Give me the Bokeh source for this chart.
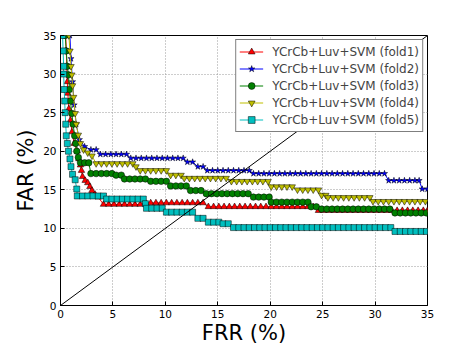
from bokeh.plotting import figure
from bokeh.models import Range1d, FixedTicker, Legend, LegendItem
from bokeh.embed import file_html
from bokeh.resources import INLINE

# ---------------- data (FRR %, FAR %) ----------------
x_ticks = [0, 5, 10, 15, 20, 25, 30, 35]
y_ticks = [0, 5, 10, 15, 20, 25, 30, 35]
eer_line = [0, 35]

labels = ["YCrCb+Luv+SVM (fold1)", "YCrCb+Luv+SVM (fold2)", "YCrCb+Luv+SVM (fold3)",
          "YCrCb+Luv+SVM (fold4)", "YCrCb+Luv+SVM (fold5)"]

fold1 = [(0.5, 35), (0.55, 33), (0.6, 31), (0.65, 29), (0.7, 27.5), (0.8, 25.5), (0.95, 24),
         (1.1, 22.5), (1.3, 21), (1.6, 20), (1.75, 19), (1.9, 18.2), (2.0, 17.5), (2.1, 16.7),
         (2.35, 16.2), (2.6, 15.9), (2.8, 15.4), (3.0, 14.9), (3.3, 14.4), (3.6, 14.05),
         (4.1, 13.1), (4.6, 13.1), (5.1, 13.1), (5.6, 13.1), (6.1, 13.1), (6.6, 13.1), (7.1, 13.1),
         (7.6, 13.1), (8.1, 13.3), (8.6, 13.3), (9.1, 13.3), (9.6, 13.3), (10.1, 13.3), (10.6, 13.3),
         (11.1, 13.3), (11.6, 13.3), (12.1, 13.3), (12.6, 13.3), (13.1, 13.3), (13.6, 13.3),
         (14.1, 12.8), (14.6, 12.8), (15.1, 12.8), (15.6, 12.8), (16.1, 12.8), (16.6, 12.8),
         (17.1, 12.8), (17.6, 12.8), (18.1, 12.8), (18.6, 12.8), (19.1, 12.8), (19.6, 12.8),
         (20.1, 12.8), (20.6, 12.8), (21.1, 12.8), (21.6, 12.8), (22.1, 12.8), (22.6, 12.8),
         (23.1, 12.8), (23.6, 12.8), (24.1, 12.8), (24.6, 12.3), (25.1, 12.3), (25.6, 12.3),
         (26.1, 12.3), (26.6, 12.3), (27.1, 12.3), (27.6, 12.3), (28.1, 12.3), (28.6, 12.3),
         (29.1, 12.3), (29.6, 12.3), (30.1, 12.3), (30.6, 12.3), (31.1, 12.3), (31.6, 12.3),
         (32.1, 12.3), (32.6, 12.3), (33.1, 12.3), (33.6, 12.3), (34.1, 12.3), (34.6, 12.3), (35, 12.3)]

fold2 = [(0.9, 35), (1.0, 32), (1.15, 29), (1.3, 26), (1.5, 23.5), (1.8, 21.5), (2.3, 20.6),
         (2.9, 20.2), (3.4, 20.2), (3.8, 19.6), (4.3, 19.6), (4.8, 19.6), (5.3, 19.6), (5.8, 19.6),
         (6.3, 19.6), (6.7, 19.1), (7.2, 19.1), (7.7, 19.1), (8.2, 19.1), (8.7, 19.1), (9.2, 19.1),
         (9.7, 19.1), (10.2, 19.1), (10.7, 19.1), (11.2, 19.1), (11.7, 19.1), (12.1, 18.6),
         (12.6, 18.6), (13.1, 18.0), (13.6, 18.0), (14.0, 17.5), (14.5, 17.5), (15.0, 17.5),
         (15.5, 17.5), (16.0, 17.5), (16.5, 17.5), (17.0, 17.5), (17.5, 17.5), (18.0, 17.5),
         (18.4, 17.1), (18.9, 17.1), (19.4, 17.1), (19.9, 17.1), (20.4, 17.1), (20.9, 17.1),
         (21.4, 17.1), (21.9, 17.1), (22.4, 17.1), (22.9, 17.1), (23.4, 17.1), (23.9, 17.1),
         (24.4, 17.1), (24.9, 17.1), (25.4, 17.1), (25.9, 17.1), (26.4, 17.1), (26.9, 17.1),
         (27.4, 17.1), (27.9, 17.1), (28.4, 17.1), (28.9, 17.1), (29.4, 17.1), (29.9, 17.1),
         (30.4, 17.1), (30.9, 17.1), (31.3, 16.2), (31.8, 16.2), (32.3, 16.2), (32.8, 16.2),
         (33.3, 16.2), (33.8, 16.2), (34.2, 16.2), (34.5, 15.1), (35, 15.1)]

fold3 = [(0.45, 35), (0.55, 33), (0.65, 31), (0.76, 29.9), (0.85, 28), (0.95, 26.5), (1.08, 24.9),
         (1.2, 23.5), (1.35, 22), (1.45, 21), (1.55, 20), (1.7, 19.2), (1.9, 18.5), (2.3, 18.5),
         (2.7, 18.5), (2.9, 17.1), (3.4, 17.1), (3.9, 17.1), (4.4, 17.1), (4.9, 17.1), (5.3, 16.9),
         (5.8, 16.9), (6.1, 16.4), (6.6, 16.4), (7.1, 16.4), (7.6, 16.4), (8.1, 16.4), (8.6, 16.1),
         (9.1, 16.1), (9.6, 16.1), (10.1, 16.1), (10.5, 15.5), (11.0, 15.5), (11.5, 15.5),
         (12.0, 15.5), (12.4, 14.9), (12.9, 14.9), (13.4, 14.9), (13.9, 14.5), (14.4, 14.5),
         (14.9, 14.5), (15.4, 14.5), (15.9, 14.5), (16.4, 14.5), (16.9, 14.5), (17.4, 14.5),
         (17.9, 14.5), (18.4, 14.05), (18.9, 14.05), (19.4, 14.05), (19.9, 14.05), (20.1, 13.4),
         (20.6, 13.4), (21.1, 13.4), (21.6, 13.4), (22.1, 13.4), (22.6, 13.4), (23.1, 13.4),
         (23.6, 13.4), (23.9, 12.8), (24.4, 12.8), (24.9, 12.5), (25.4, 12.5), (25.9, 12.5),
         (26.4, 12.5), (26.9, 12.5), (27.4, 12.5), (27.9, 12.5), (28.4, 12.5), (28.9, 12.5),
         (29.4, 12.5), (29.9, 12.5), (30.4, 12.5), (30.9, 12.5), (31.4, 12.5), (31.9, 12.0),
         (32.4, 12.0), (32.9, 12.0), (33.4, 12.0), (33.9, 12.0), (34.4, 12.0), (34.9, 12.0)]

fold4 = [(0.8, 35), (0.9, 33), (1.0, 31), (1.08, 29.9), (1.15, 28.5), (1.25, 27), (1.4, 24.9),
         (1.5, 23.5), (1.7, 22.1), (1.9, 21), (2.2, 20.2), (2.6, 19.8), (3.0, 19.4), (3.4, 18.4),
         (3.9, 18.4), (4.4, 18.4), (4.9, 18.4), (5.4, 18.4), (5.9, 18.4), (6.4, 18.4), (6.9, 18.4),
         (7.2, 18.0), (7.6, 17.5), (8.1, 17.5), (8.6, 17.5), (9.1, 17.5), (9.6, 17.5), (10.1, 17.5),
         (10.5, 16.9), (11.0, 16.9), (11.5, 16.9), (11.8, 16.5), (12.3, 16.5), (12.8, 16.5),
         (13.3, 16.5), (13.8, 16.5), (14.3, 16.5), (14.8, 16.5), (15.3, 16.5), (15.8, 16.5),
         (16.3, 16.1), (16.8, 16.1), (17.3, 16.1), (17.8, 16.1), (18.3, 16.1), (18.8, 16.1),
         (19.3, 16.1), (19.8, 16.1), (20.1, 15.4), (20.6, 15.4), (21.1, 15.4), (21.6, 15.4),
         (22.1, 15.4), (22.6, 15.0), (23.1, 15.0), (23.6, 15.0), (24.1, 15.0), (24.6, 15.0),
         (24.9, 14.3), (25.3, 14.3), (25.5, 14.0), (26.0, 14.0), (26.5, 14.0), (27.0, 14.0),
         (27.5, 14.0), (28.0, 14.0), (28.5, 14.0), (29.0, 14.0), (29.5, 14.0), (29.8, 13.5),
         (30.3, 13.5), (30.8, 13.5), (31.3, 13.5), (31.8, 13.5), (32.3, 13.5), (32.8, 13.5),
         (33.3, 13.5), (33.8, 13.5), (34.3, 13.5), (34.8, 13.5)]

fold5 = [(0.2, 35), (0.25, 33), (0.3, 31), (0.3, 30), (0.35, 28), (0.4, 26.5), (0.44, 25),
         (0.5, 23.5), (0.55, 22), (0.65, 21), (0.76, 20), (0.9, 19), (1.0, 18), (1.15, 17),
         (1.4, 16.3), (1.55, 15.1), (1.6, 14.2), (2.1, 14.2), (2.6, 14.2), (3.1, 14.2), (3.6, 14.2),
         (4.1, 14.2), (4.4, 13.8), (4.9, 13.8), (5.4, 13.8), (5.9, 13.8), (6.4, 13.8), (6.9, 13.8),
         (7.4, 13.8), (7.9, 13.8), (8.1, 13.2), (8.2, 12.6), (8.7, 12.6), (9.2, 12.6), (9.7, 12.6),
         (10.1, 12.1), (10.6, 12.1), (11.1, 12.1), (11.6, 12.1), (12.1, 12.1), (12.6, 12.1),
         (13.1, 11.3), (13.6, 11.3), (14.1, 10.8), (14.6, 10.8), (15.1, 10.8), (15.5, 10.6),
         (16.0, 10.6), (16.5, 10.1), (17.0, 10.1), (17.5, 10.1), (18.0, 10.1), (18.5, 10.1),
         (19.0, 10.1), (19.5, 10.1), (20.0, 10.1), (20.5, 10.1), (21.0, 10.1), (21.5, 10.1),
         (22.0, 10.1), (22.5, 10.1), (23.0, 10.1), (23.5, 10.1), (24.0, 10.1), (24.5, 10.1),
         (25.0, 10.1), (25.5, 10.1), (26.0, 10.1), (26.5, 10.1), (27.0, 10.1), (27.5, 10.1),
         (28.0, 10.1), (28.5, 10.1), (29.0, 10.1), (29.5, 10.1), (30.0, 10.1), (30.5, 10.1),
         (31.0, 10.1), (31.5, 10.1), (31.9, 9.6), (32.4, 9.6), (32.9, 9.6), (33.4, 9.6),
         (33.9, 9.6), (34.4, 9.6), (34.9, 9.6)]

series = [fold1, fold2, fold3, fold4, fold5]
colors = ["#ff0000", "#0000ff", "#008000", "#bfbf00", "#00bfbf"]
markers = ["triangle", "star", "circle", "inverted_triangle", "square"]
sizes = [6.5, 6.5, 6.5, 6.5, 6]

FONT = "DejaVu Sans"

p = figure(width=466, height=347, output_backend="svg", toolbar_location=None,
           x_range=Range1d(0, 35), y_range=Range1d(0, 35),
           min_border_left=60, min_border_right=39, min_border_top=35, min_border_bottom=28,
           background_fill_color="white", border_fill_color="white")

p.outline_line_color = "black"
p.outline_line_width = 1

for ax, ticks in ((p.xaxis[0], x_ticks), (p.yaxis[0], y_ticks)):
    ax.ticker = FixedTicker(ticks=ticks)
    ax.major_tick_in = 4
    ax.major_tick_out = 0
    ax.minor_tick_line_color = None
    ax.axis_line_color = "black"
    ax.major_tick_line_color = "black"
    ax.major_label_text_font = FONT
    ax.major_label_text_font_size = "10.5px"
    ax.major_label_text_color = "black"
    ax.major_label_standoff = 4
    ax.axis_label_text_font = FONT
    ax.axis_label_text_font_size = "21px"
    ax.axis_label_text_font_style = "normal"
    ax.axis_label_text_color = "black"

p.yaxis[0].axis_label = "FAR (%)"
p.yaxis[0].axis_label_standoff = 2
p.xaxis[0].axis_label = "FRR (%)"
p.xaxis[0].axis_label_standoff = 0

p.xgrid.ticker = FixedTicker(ticks=x_ticks)
p.ygrid.ticker = FixedTicker(ticks=y_ticks)
for g in (p.xgrid, p.ygrid):
    g.grid_line_color = "#9a9a9a"
    g.grid_line_dash = "1 2"
    g.grid_line_width = 1

items = []
for data, col, mk, sz, lab in zip(series, colors, markers, sizes, labels):
    xs = [d[0] for d in data]
    ys = [d[1] for d in data]
    ln = p.line(xs, ys, line_color=col, line_width=1)
    sc = p.scatter(xs, ys, marker=mk, size=sz, fill_color=col, line_color="black", line_width=0.5)
    items.append(LegendItem(label=lab, renderers=[ln, sc]))

p.line(eer_line, eer_line, line_color="black", line_width=1)

legend = Legend(items=items, location="top_right", margin=4, padding=3, spacing=0,
                label_text_font=FONT, label_text_font_size="12px", label_height=17,
                glyph_height=17, glyph_width=24, label_standoff=9,
                border_line_color="black", border_line_width=1,
                background_fill_color="white", background_fill_alpha=1)
p.add_layout(legend)

open("out.html", "w").write(file_html(p, INLINE))
